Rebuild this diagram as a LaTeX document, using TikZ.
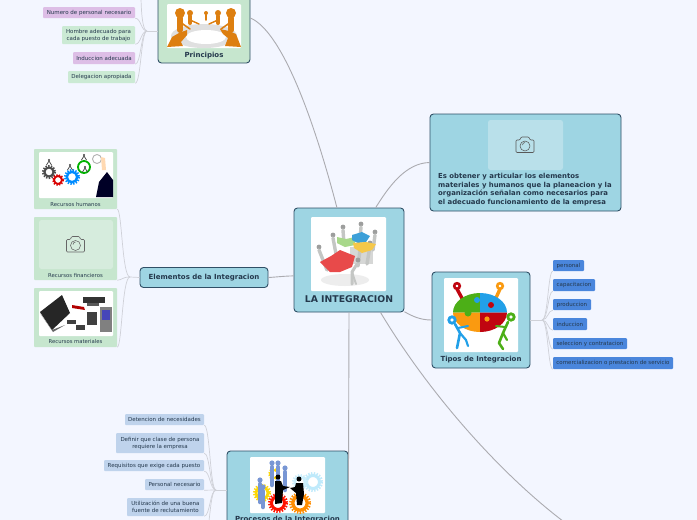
\documentclass[tikz,border=0pt]{standalone}
\usepackage{fontspec}
\setmainfont{DejaVu Sans}
\definecolor{pagebg}{HTML}{F3F6FF}
\definecolor{inktext}{HTML}{24384C}
\definecolor{edgeline}{HTML}{2F4F66}
\definecolor{bluebox}{HTML}{9ED5E3}
\definecolor{bluepale}{HTML}{B9E0EA}
\definecolor{greenbox}{HTML}{C6E6CE}
\definecolor{greenpale}{HTML}{D6ECDD}
\definecolor{leafgreen}{HTML}{CBEAD4}
\definecolor{leafpurple}{HTML}{DDBEE6}
\definecolor{leafblue}{HTML}{4A86DC}
\definecolor{leafpale}{HTML}{BFD3EC}
\definecolor{mainline}{HTML}{ABABB0}
\definecolor{twigline}{HTML}{CFD1D8}
\definecolor{figorange}{HTML}{DD7F10}
\definecolor{figgrey}{HTML}{C4C6C4}
\definecolor{pzred}{HTML}{E84A4A}
\definecolor{pzgreen}{HTML}{A8D88A}
\definecolor{pzblue}{HTML}{3DA0D8}
\definecolor{pzyellow}{HTML}{F5C84A}
\definecolor{tpgreen}{HTML}{4CAF17}
\definecolor{tpblue}{HTML}{22A0E8}
\definecolor{tporange}{HTML}{FA9A10}
\definecolor{tpred}{HTML}{C00510}
\tikzset{
  bigbox/.style={draw=edgeline,line width=.9pt,rounded corners=3.5pt,inner sep=0pt},
  resbox/.style={fill=greenbox,inner sep=0pt,rounded corners=.8pt,minimum width=83pt},
  picpanel/.style={fill=white,rounded corners=1pt,inner sep=0pt},
  leafbox/.style={rounded corners=1pt,inner sep=0pt,align=center,text=inktext,font=\fontsize{5.5}{7}\selectfont},
  mainedge/.style={draw=mainline,line width=.9pt},
  twig/.style={draw=twigline,line width=.7pt},
  limb/.style={line cap=round,line join=round},
}
\newcommand{\camicon}[3]{% centre x, centre y, colour
  \begin{scope}[shift={(#1,#2)},draw=#3,line width=.55pt]
    \draw[rounded corners=1pt] (-9,-5) -- (-5,-5) -- (-4,-8) -- (4,-8) -- (5,-5) -- (9,-5) -- (9,7.5) -- (-9,7.5) -- cycle;
    \draw (0,1) circle (5);
    \draw (-2.5,0) arc (180:270:2.5);
  \end{scope}}
\newcommand{\gearwheel}[4]{% centre x, centre y, radius, colour
  \draw[#4,line width=.3*#3 pt] (#1,#2) circle (.65*#3);
  \draw[#4,line width=.25*#3 pt,dash pattern=on 1.4pt off 1.4pt] (#1,#2) circle (.88*#3);}
\begin{document}
\begin{tikzpicture}[x=1pt,y=-1pt]
  \useasboundingbox (0,0) rectangle (697,520);
  \clip (0,0) rectangle (697,520);
  \fill[pagebg] (0,0) rectangle (697,520);

  % main boxes
  \begin{scope}[every node/.style={bigbox}]
    \node[fill=bluebox,minimum width=110pt,minimum height=104pt] (central) at (349,260) {};
    \node[fill=greenbox,minimum width=92pt,minimum height=90pt] (principios) at (204,18) {};
    \node[fill=bluebox,minimum width=128pt,minimum height=20pt] (elementos) at (204,277.5) {};
    \node[fill=bluebox,minimum width=191pt,minimum height=97pt] (objeto) at (525.5,162.5) {};
    \node[fill=bluebox,minimum width=98pt,minimum height=96pt] (tipos) at (481,320) {};
    \node[fill=bluebox,minimum width=121pt,minimum height=78pt] (procesos) at (287.5,490) {};
  \end{scope}
  \coordinate (offpage) at (575,530);
  \coordinate (offtop) at (141,-4);
  \coordinate (offbottom) at (207,528);

  % recursos boxes
  \begin{scope}[every node/.style={resbox}]
    \node[minimum height=60pt] (humanos) at (75.5,179) {};
    \node[minimum height=63pt] (financieros) at (75.5,248.5) {};
    \node[minimum height=59pt] (materiales) at (75.5,317.5) {};
  \end{scope}

  % leaves
  \begin{scope}[every node/.style={leafbox}]
    \node[fill=leafpurple,minimum width=92pt,minimum height=11pt] (numero) at (89,12.5) {Numero de personal necesario};
    \node[fill=leafgreen,minimum width=73pt,minimum height=18pt] (hombre) at (98.5,35) {Hombre adecuado para\\cada puesto de trabajo};
    \node[fill=leafpurple,minimum width=62pt,minimum height=12pt] (induccionad) at (104,58) {Induccion adecuada};
    \node[fill=leafgreen,minimum width=67pt,minimum height=12pt] (delegacion) at (101.5,77) {Delegacion apropiada};
    \node[fill=leafblue,minimum width=31pt,minimum height=11pt] (personal) at (568.5,265.5) {personal};
    \node[fill=leafblue,minimum width=42pt,minimum height=12pt] (capacitacion) at (574,285) {capacitacion};
    \node[fill=leafblue,minimum width=38pt,minimum height=11pt] (produccion) at (572,304.5) {produccion};
    \node[fill=leafblue,minimum width=34pt,minimum height=12pt] (induccion) at (570,324) {induccion};
    \node[fill=leafblue,minimum width=74pt,minimum height=11pt] (seleccion) at (590,343.5) {seleccion y contratacion};
    \node[fill=leafblue,minimum width=120pt,minimum height=12pt] (comercio) at (613,363) {comercializacion o prestacion de servicio};
    \node[fill=leafpale,minimum width=79pt,minimum height=11pt] (detencion) at (164.5,419.5) {Detencion de necesidades};
    \node[fill=leafpale,minimum width=88pt,minimum height=20pt] (definir) at (160,443) {Definir que clase de persona\\requiere la empresa};
    \node[fill=leafpale,minimum width=100pt,minimum height=11pt] (requisitos) at (154,465.5) {Requisitos que exige cada puesto};
    \node[fill=leafpale,minimum width=59pt,minimum height=11pt] (necesario) at (174.5,484.5) {Personal necesario};
    \node[fill=leafpale,minimum width=77pt,minimum height=18pt] (utilizacion) at (165.5,507) {Utilización de una buena\\fuente de reclutamiento};
  \end{scope}

  % main connectors
  \path[mainedge] (central.103) .. controls (318,135) and (285,33) .. (principios.east);
  \path[mainedge] (central.63) .. controls (388,188) and (405,163) .. (objeto.west);
  \path[mainedge] (central.196) .. controls (285,276) and (277,277) .. (elementos.east);
  \path[mainedge] (central.-43) .. controls (412,316) and (420,320) .. (tipos.west);
  \path[mainedge] (central.south) -- (procesos.east);
  \path[mainedge] (central.-59) .. controls (430,395) and (505,480) .. (offpage);

  % twigs
  \coordinate (forkprincipios) at (147,31);
  \coordinate (bendprincipios) at (141,31);
  \coordinate (forkelementos) at (130,277);
  \coordinate (bendelementos) at (122,277);
  \coordinate (forktipos) at (542,320);
  \coordinate (bendtipos) at (548,320);
  \coordinate (forkprocesos) at (216,490);
  \coordinate (bendprocesos) at (210,490);
  \path[twig] (principios.west |- forkprincipios) -- (forkprincipios);
  \path[twig] (elementos.west) -- (forkelementos);
  \path[twig] (tipos.east) -- (forktipos);
  \path[twig] (procesos.west) -- (forkprocesos);
  \foreach \leaf in {numero,hombre,induccionad,delegacion,offtop}
    \path[twig] (forkprincipios) .. controls (bendprincipios) and (bendprincipios |- \leaf.south east) .. (\leaf.south east);
  \foreach \leaf in {humanos,financieros,materiales}
    \path[twig] (forkelementos) .. controls (bendelementos) and (bendelementos |- \leaf.south east) .. (\leaf.south east);
  \foreach \leaf in {personal,capacitacion,produccion,induccion,seleccion,comercio}
    \path[twig] (forktipos) .. controls (bendtipos) and (bendtipos |- \leaf.south west) .. (\leaf.south west);
  \foreach \leaf in {detencion,definir,requisitos,necesario,utilizacion,offbottom}
    \path[twig] (forkprocesos) .. controls (bendprocesos) and (bendprocesos |- \leaf.south east) .. (\leaf.south east);

  % picture panels
  \begin{scope}[every node/.style={picpanel}]
    \node[minimum width=75pt,minimum height=74pt] (pcentral) at (348.5,254) {};
    \node[minimum width=74pt,minimum height=44pt] (pprincipios) at (204,26) {};
    \node[minimum width=74pt,minimum height=74pt] (ptipos) at (481,315) {};
    \node[minimum width=75pt,minimum height=56pt] (pprocesos) at (287.5,485) {};
    \node[minimum width=74pt,minimum height=46pt] (phumanos) at (76,175) {};
    \node[minimum width=74pt,minimum height=45pt] (pmateriales) at (76,313.5) {};
    \node[fill=bluepale,rounded corners=2.5pt,minimum width=75pt,minimum height=50pt] (pobjeto) at (525.5,145) {};
    \node[fill=greenpale,rounded corners=2.5pt,minimum width=74pt,minimum height=49pt] (pfinancieros) at (76,244.5) {};
  \end{scope}
  \camicon{525}{145}{black!65}
  \camicon{75.5}{244.5}{black!60}

  % central picture
  \fill[black!7] (345,280) ellipse (24 and 6);
  \fill[figgrey!70] (350,247) rectangle (373,264);
  \foreach \hx/\hy/\fx/\fy in {343/227/344/244, 361/224/360/240, 375/232/373/250, 333/235/336/254, 319/247/327/270, 370/243/367/264, 360/247/358/266}{
    \fill[figgrey!80!black] (\hx,\hy) circle (2.4);
    \draw[figgrey,line width=3.4pt,limb] (\hx,\hy+3) -- (\fx,\fy);
  }
  \fill[pzgreen] (337,237) -- (346,239) -- (355,237) -- (355,245) -- (345,247) -- (337,243) -- cycle;
  \fill[pzblue] (352,235) -- (362,232) -- (370,236) -- (366,242) -- (358,243) -- (352,240) -- cycle;
  \fill[pzyellow] (353,243) -- (366,242) -- (376,244) -- (372,250) -- (362,253) -- (354,248) -- cycle;
  \fill[pzred] (320,262) -- (331,256) -- (340,250) -- (355,256) -- (352,267) -- (340,272) -- (330,272) -- cycle;
  \fill[figgrey!80!black] (358,260) circle (2.4);
  \draw[figgrey,line width=3pt,limb] (357,264) -- (352,272) -- (352,284);
  \draw[figgrey,line width=2pt,limb] (352,272) -- (356,284);

  % principios picture
  \fill[black!12] (204,36) ellipse (33 and 12);
  \fill[white] (206,37) ellipse (20 and 7);
  \foreach \hx/\hy/\hr in {180/13/5, 190/13/3, 206/13/2, 218/13/3, 231/13/5}{
    \fill[figorange] (\hx,\hy) circle (\hr);
    \draw[figorange,line width=\hr*1.2pt,limb] (\hx,\hy+\hr) -- (\hx,\hy+\hr*3.4);
  }
  \draw[figorange,line width=1.6pt,limb] (180,22) -- (190,29);
  \draw[figorange,line width=1.6pt,limb] (231,22) -- (221,29);
  \draw[figorange,line width=1.4pt,limb] (190,20) -- (199,24);
  \draw[figorange,line width=1.4pt,limb] (218,20) -- (209,24);
  \fill[figorange] (167,47) -- (172,37) -- (179,33) -- (187,30) -- (187,35) -- (181,42) -- (183,46) -- cycle;
  \fill[figorange] (241,47) -- (236,34) -- (229,31) -- (220,29) -- (223,34) -- (228,38) -- (225,46) -- cycle;

  % tipos picture
  \foreach \hx/\hy/\hc/\tx/\ty in {457/286/tpred/463/300, 500/286/tporange/495/300}{
    \draw[\hc,line width=2.6pt] (\hx,\hy) circle (2.8);
    \draw[\hc,line width=3.4pt,limb] (\hx,\hy+3) -- (\tx,\ty);
  }
  \fill[tpgreen] (480,312.5) -- (453,312.5) arc (180:270:27 and 19.5) -- cycle;
  \fill[tpblue] (480,312.5) -- (480,293) arc (270:360:27 and 19.5) -- cycle;
  \fill[tporange] (480,312.5) -- (480,332) arc (90:180:27 and 19.5) -- cycle;
  \fill[tpred] (480,312.5) -- (507,312.5) arc (0:90:27 and 19.5) -- cycle;
  \fill[tpblue] (477,300) circle (3);
  \fill[tpgreen] (468,313) circle (3.5);
  \fill[tpred] (491,305) circle (3);
  \fill[tporange] (487,319) circle (2.6);
  \draw[tpblue,line width=2.8pt] (452,320) circle (3.2);
  \draw[tpblue,line width=2.6pt,limb] (455,324) -- (460,333) -- (457,348);
  \draw[tpblue,line width=2.2pt,limb] (460,333) -- (466,340) -- (468,346);
  \draw[tpblue,line width=2pt,limb] (458,328) -- (468,326);
  \draw[tpgreen,line width=2.8pt] (511,317) circle (3.2);
  \draw[tpgreen,line width=2.6pt,limb] (508,322) -- (503,333) -- (499,343) -- (503,349);
  \draw[tpgreen,line width=2.2pt,limb] (503,333) -- (507,340);
  \draw[tpgreen,line width=2pt,limb] (505,327) -- (496,326);

  % procesos picture
  \gearwheel{313}{482}{10}{cyan!25}
  \gearwheel{300}{482}{8}{cyan!20}
  \gearwheel{262}{493}{9}{yellow!75!orange}
  \gearwheel{274}{474}{6}{yellow!75!orange}
  \foreach \hx/\hy/\hh in {260/480/22, 263/487/20, 272/463/22, 278/463/20, 285/468/22}{
    \fill[cyan!40!blue!55] (\hx,\hy) circle (2.6);
    \draw[cyan!40!blue!55,line width=4.5pt,limb] (\hx,\hy+4) -- (\hx,\hy+\hh);
  }
  \gearwheel{278}{503}{10}{red!85!orange}
  \gearwheel{300}{503}{11}{orange!90!yellow}
  \fill[black] (278,477) circle (2.5);
  \fill[black] (275,481) -- (281,481) -- (283,486) -- (290,487) -- (283,490) -- (282,503) -- (275,504) -- cycle;
  \fill[black] (299,479) circle (2.5);
  \fill[black] (296,483) -- (303,483) -- (304,494) -- (302,505) -- (297,505) -- (296,493) -- (290,488) -- (295,487) -- cycle;

  % recursos humanos picture
  \gearwheel{49}{172}{7}{black!70}
  \gearwheel{58}{180}{6}{red!85!black}
  \gearwheel{72}{177}{8}{blue!45!cyan}
  \draw[green!70!black,line width=1.8pt] (84,167) circle (6);
  \draw[black!30,line width=.9pt] (97,159) circle (4.5);
  \foreach \hx/\hy in {49/160, 70/165, 84/155, 85/167}{
    \fill[black!75] (\hx,\hy) circle (1.2);
    \draw[black!75,line width=.7pt] (\hx-2.5,\hy+5) -- (\hx,\hy+1) -- (\hx+2.5,\hy+5);
  }
  \fill[black!85!blue] (96,197) -- (99,182) -- (107,172) -- (113,180) -- (113,197) -- cycle;
  \fill[orange!30!white] (101,157) -- (105,158) -- (106,170) -- (102,170) -- cycle;

  % recursos materiales picture
  \fill[black!85] (40,312) -- (62,295) -- (70,313) -- (52,330) -- cycle;
  \fill[black!60] (40,313) -- (53,332) -- (65,325) -- (52,330) -- cycle;
  \fill[black!80] (83,297) rectangle (105,303);
  \fill[black!65] (87,303) rectangle (99,306);
  \fill[black!75] (87,312) rectangle (97,325);
  \fill[red!70!black] (72,305) -- (84,307) -- (85,310) -- (72,308) -- cycle;
  \fill[black!75] (67,320) rectangle (76,324);
  \fill[black!75] (76,325) rectangle (85,330);
  \fill[black!50] (100,307) rectangle (112,332);
  \fill[blue!45!gray] (102,310) rectangle (110,320);

  % box titles
  \begin{scope}[every node/.style={text=inktext,font=\fontsize{7}{8}\selectfont\bfseries,inner sep=0pt}]
    \node (tcentral) at (349,299.5) {\fontsize{9.3}{10}\selectfont LA INTEGRACION};
    \node (tprincipios) at (204,55.5) {Principios};
    \node (telementos) at (204,278) {Elementos de la Integracion};
    \node (ttipos) at (481,359.5) {Tipos de Integracion};
    \node (tprocesos) at (287.5,519.5) {Procesos de la Integracion};
    \node[align=left,anchor=north west,font=\fontsize{6.9}{8.4}\selectfont\bfseries] (tobjeto) at (438,173.5) {Es obtener y articular los elementos\\materiales y humanos que la planeacion y la\\organización señalan como necesarios para\\el adecuado funcionamiento de la empresa};
  \end{scope}
  \begin{scope}[every node/.style={text=inktext,font=\fontsize{5.3}{6}\selectfont,inner sep=0pt}]
    \node (thumanos) at (75.5,205) {Recursos humanos};
    \node (tfinancieros) at (75.5,275.5) {Recursos financieros};
    \node (tmateriales) at (75.5,341.5) {Recursos materiales};
  \end{scope}
\end{tikzpicture}
\end{document}
